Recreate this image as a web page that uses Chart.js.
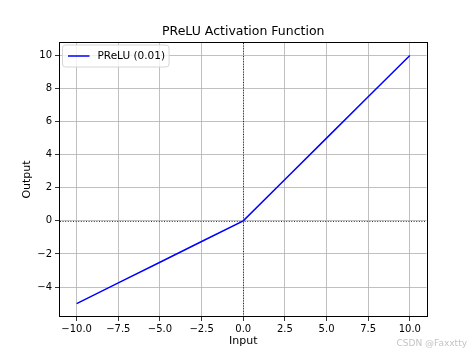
<!DOCTYPE html>
<html><head><meta charset="utf-8">
<script src="https://cdn.jsdelivr.net/npm/chart.js@4.4.0/dist/chart.umd.min.js"></script>
<style>html,body{margin:0;padding:0;background:#fff;}#wrap{width:474px;height:355px;position:relative;}</style>
</head><body>
<div id="wrap"><canvas id="c" width="474" height="355"></canvas></div>
<script>
const inputs = [-10, -7.5, -5, -2.5, 0, 2.5, 5, 7.5, 10];
const outputs = [-5, -3.75, -2.5, -1.25, 0, 2.5, 5, 7.5, 10];
const xTicks = [-10, -7.5, -5, -2.5, 0, 2.5, 5, 7.5, 10];
const yTicks = [-4, -2, 0, 2, 4, 6, 8, 10];
const seriesLabel = 'PReLU (0.01)';
const titleText = 'PReLU Activation Function';
const xLabel = 'Input';
const yLabel = 'Output';
const watermark = 'CSDN @Faxxtty';

const FONT = 'DejaVu Sans';

const extras = {
  id: 'extras',
  beforeDatasetsDraw(chart) {
    const {ctx, chartArea: a, scales: {x, y}} = chart;
    ctx.save();
    ctx.strokeStyle = '#000';
    ctx.lineWidth = 0.8;
    ctx.setLineDash([1, 1.6]);
    const x0 = Math.round(x.getPixelForValue(0)) + 0.5;
    const y0 = Math.round(y.getPixelForValue(0)) + 0.5;
    ctx.beginPath(); ctx.moveTo(x0, a.top); ctx.lineTo(x0, a.bottom); ctx.stroke();
    ctx.beginPath(); ctx.moveTo(a.left, y0); ctx.lineTo(a.right, y0); ctx.stroke();
    ctx.restore();
  },
  afterDraw(chart) {
    const {ctx, chartArea: a} = chart;
    ctx.save();
    ctx.strokeStyle = '#000';
    ctx.lineWidth = 1;
    ctx.strokeRect(Math.round(a.left) - 0.5, Math.round(a.top) - 0.5, Math.round(a.right - a.left) + 1, Math.round(a.bottom - a.top) + 1);
    // title
    ctx.font = '12.5px "' + FONT + '"';
    ctx.fillStyle = '#000';
    ctx.textAlign = 'center';
    ctx.textBaseline = 'middle';
    ctx.fillText(titleText, (a.left + a.right) / 2, 31.5);
    // legend
    const ds = chart.data.datasets[0];
    ctx.font = '10.5px "' + FONT + '"';
    ctx.textAlign = 'left';
    const tw = ctx.measureText(ds.label).width;
    const bx = a.left + 2, by = a.top + 1.5, bw = 35 + tw + 4, bh = 22;
    ctx.fillStyle = 'rgba(255,255,255,0.8)';
    ctx.strokeStyle = '#d6d6d6';
    ctx.lineWidth = 1;
    ctx.beginPath();
    ctx.roundRect(bx + 0.5, by + 0.5, bw, bh, 3);
    ctx.fill(); ctx.stroke();
    ctx.strokeStyle = ds.borderColor;
    ctx.lineWidth = 1.5;
    ctx.beginPath(); ctx.moveTo(bx + 6, by + 11.5); ctx.lineTo(bx + 27.5, by + 11.5); ctx.stroke();
    ctx.fillStyle = '#000';
    ctx.textBaseline = 'middle';
    ctx.fillText(ds.label, bx + 35.5, by + 12);
    // watermark
    ctx.font = '9px "' + FONT + '"';
    ctx.fillStyle = '#c4c4c4';
    ctx.textAlign = 'right';
    ctx.fillText(watermark, 467, 344);
    ctx.restore();
  }
};

new Chart(document.getElementById('c'), {
  type: 'scatter',
  data: {
    datasets: [{
      label: seriesLabel,
      data: inputs.map((v, i) => ({x: v, y: outputs[i]})),
      showLine: true,
      borderColor: '#0000ff',
      backgroundColor: '#0000ff',
      borderWidth: 1.5,
      pointRadius: 0,
      tension: 0
    }]
  },
  options: {
    responsive: false,
    animation: false,
    layout: {padding: {left: 0, right: 47.5, top: 43, bottom: 0}},
    plugins: {
      legend: {display: false},
      tooltip: {enabled: false},
      title: {display: false}
    },
    scales: {
      x: {
        type: 'linear', min: -11, max: 11,
        afterBuildTicks: s => { s.ticks = xTicks.map(v => ({value: v})); },
        afterFit: s => { s.height = 39; },
        ticks: {color: '#000', font: {family: FONT, size: 10}, padding: 2, maxRotation: 0,
          callback: v => v.toFixed(1).replace('-', '\u2212')},
        grid: {color: '#b0b0b0', lineWidth: 0.8, tickColor: '#000', tickLength: 5, drawTicks: true},
        border: {display: false},
        title: {display: true, text: xLabel, color: '#000', font: {family: FONT, size: 11}, padding: {top: 0, bottom: 7.5}}
      },
      y: {
        type: 'linear', min: -5.75, max: 10.75,
        afterBuildTicks: s => { s.ticks = yTicks.map(v => ({value: v})); },
        afterFit: s => { s.width = 60; },
        ticks: {color: '#000', font: {family: FONT, size: 10}, padding: 3,
          callback: v => String(v).replace('-', '\u2212')},
        grid: {color: '#b0b0b0', lineWidth: 0.8, tickColor: '#000', tickLength: 5, drawTicks: true},
        border: {display: false},
        title: {display: true, text: yLabel, color: '#000', font: {family: FONT, size: 11}, padding: {top: 20.5, bottom: 0}}
      }
    }
  },
  plugins: [extras]
});
</script>
</body></html>
